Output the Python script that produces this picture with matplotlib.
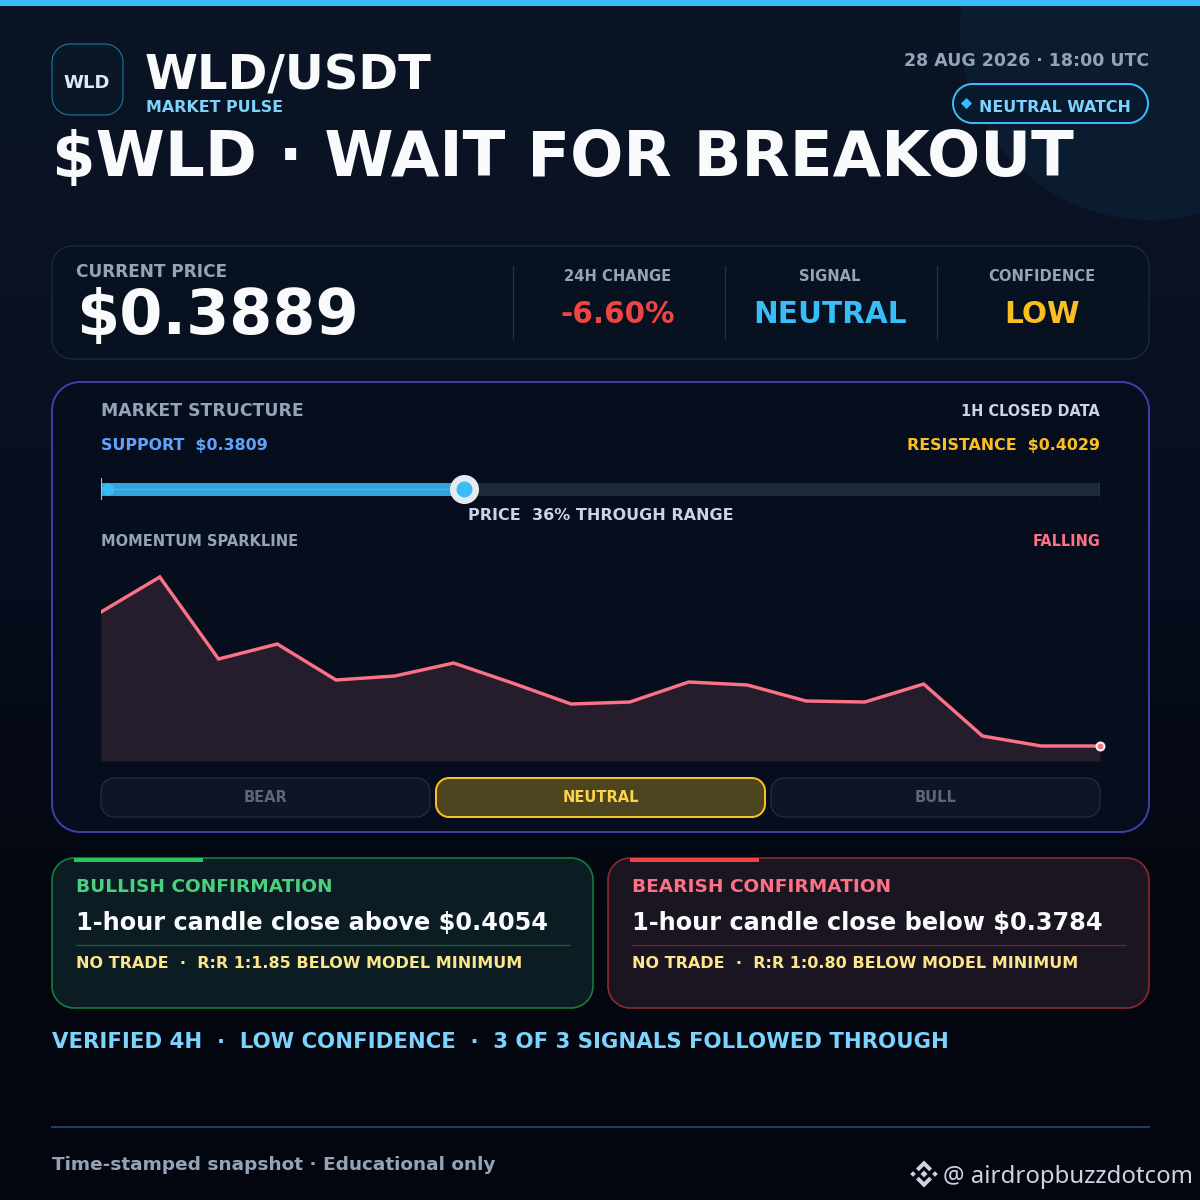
import numpy as np
import matplotlib
matplotlib.use("Agg")
import matplotlib.pyplot as plt
from matplotlib.patches import Circle, Polygon, Rectangle, PathPatch
from matplotlib.path import Path
from matplotlib.colors import LinearSegmentedColormap

plt.rcParams['font.family'] = ['DejaVu Sans']

pair = "WLD/USDT"
headline = "$WLD · WAIT FOR BREAKOUT"
price = 0.3889
support = 0.3809
resistance = 0.4029
change_pct = -6.60
spark_values = [149, 184, 102, 117, 81, 85, 98, 78, 57, 59, 79, 76, 60, 59, 77, 25, 15, 15]
pill_labels = ["BEAR", "NEUTRAL", "BULL"]

fig = plt.figure(figsize=(12, 12), dpi=100)
ax = fig.add_axes([0, 0, 1, 1])
ax.set_xlim(0, 1200)
ax.set_ylim(1200, 0)
ax.axis('off')

cmap = LinearSegmentedColormap.from_list('bg', ['#0a1526', '#0a1122', '#070d1c', '#03070f', '#03060e'])
ax.imshow(np.linspace(0, 1, 256)[:, None], cmap=cmap, extent=(0, 1200, 1200, 0), aspect='auto', zorder=0)
ax.set_xlim(0, 1200)
ax.set_ylim(1200, 0)

ax.add_patch(Circle((1150, 30), 190, fc='#0c1c30', ec='none', zorder=1))
ax.add_patch(Rectangle((0, 0), 1200, 6, fc='#38bdf8', ec='none', zorder=2))


def T(x, y, s, px, color, weight='bold', ha='left', family=None, z=6):
    return ax.text(x, y, s, fontsize=px * 0.72, color=color, fontweight=weight, ha=ha, va='baseline',
                   family=family or 'DejaVu Sans', zorder=z)


def box(x0, y0, x1, y1, r, fc, ec, lw=1.0, z=3):
    k = r * 0.5523
    verts = [(x0 + r, y0), (x1 - r, y0), (x1 - r + k, y0), (x1, y0 + r - k), (x1, y0 + r),
             (x1, y1 - r), (x1, y1 - r + k), (x1 - r + k, y1), (x1 - r, y1),
             (x0 + r, y1), (x0 + r - k, y1), (x0, y1 - r + k), (x0, y1 - r),
             (x0, y0 + r), (x0, y0 + r - k), (x0 + r - k, y0), (x0 + r, y0), (x0 + r, y0)]
    codes = [Path.MOVETO, Path.LINETO, Path.CURVE4, Path.CURVE4, Path.CURVE4,
             Path.LINETO, Path.CURVE4, Path.CURVE4, Path.CURVE4,
             Path.LINETO, Path.CURVE4, Path.CURVE4, Path.CURVE4,
             Path.LINETO, Path.CURVE4, Path.CURVE4, Path.CURVE4, Path.CLOSEPOLY]
    p = PathPatch(Path(verts, codes), fc=fc, ec=ec, lw=lw * 0.72, zorder=z)
    ax.add_patch(p)
    return p


# Header
box(52, 44, 123, 115, 18, '#0a1727', '#1f7fb0', 1)
T(87, 88.5, "WLD", 18.2, '#e2e8f0', ha='center')
T(145, 90, pair, 48, '#f8fafc')
T(146, 112, "MARKET PULSE", 15.9, '#7dd3fc')
T(52, 175.5, headline, 62.7, '#f8fafc')
T(1149, 65.5, "28 AUG 2026 · 18:00 UTC", 17.4, '#94a3b8', ha='right')
box(953, 84, 1148, 123, 19.5, '#0a1a2e', '#38bdf8', 2)
ax.add_patch(Polygon([(961, 103.5), (966.5, 98), (972, 103.5), (966.5, 109)], fc='#38bdf8', ec='none', zorder=6))
T(979, 112, "NEUTRAL WATCH", 15.9, '#7dd3fc')

# Price strip
box(52, 246, 1149, 359, 20, '#07111f', '#1b3448', 1)
T(76, 277, "CURRENT PRICE", 17.05, '#94a3b8')
T(76, 333.5, f"${price:.4f}", 62, '#f8fafc')
for xd in (512.5, 724.5, 936.5):
    ax.plot([xd, xd], [266, 339], color='#1c3348', lw=0.9, zorder=5)
T(618, 281, "24H CHANGE", 14.7, '#94a3b8', ha='center')
T(618, 323, f"{change_pct:.2f}%", 29.5, '#ef4444', ha='center')
T(830, 281, "SIGNAL", 14.7, '#94a3b8', ha='center')
T(830, 323, "NEUTRAL", 29.5, '#38bdf8', ha='center')
T(1042, 281, "CONFIDENCE", 14.7, '#94a3b8', ha='center')
T(1042, 323, "LOW", 29.5, '#fbbf24', ha='center')

# Market structure panel
box(52, 382, 1149, 832, 28, '#060e1e', '#3f3da8', 2)
T(101, 416, "MARKET STRUCTURE", 17.3, '#94a3b8')
T(1100, 416, "1H CLOSED DATA", 14.5, '#cbd5e1', ha='right')
T(101, 450, f"SUPPORT  ${support:.4f}", 15.9, '#60a5fa')
T(1100, 450, f"RESISTANCE  ${resistance:.4f}", 15.85, '#fbbf24', ha='right')

# Range bar
bar = fig.add_axes([101 / 1200, 1 - 500 / 1200, 999 / 1200, 22 / 1200])
bar.set_xlim(support, resistance)
bar.set_ylim(-1, 1)
bar.axis('off')
bar.patch.set_alpha(0)
bar.plot([support, resistance], [0, 0], color='#1e293b', lw=13 * 0.72, solid_capstyle='butt', zorder=1)
bar.plot([support, price], [0, 0], color='#34a3dc', lw=13 * 0.72, solid_capstyle='butt', zorder=2)
bar.plot([support, price], [0, 0], color='#38bdf8', lw=0.8, solid_capstyle='butt', zorder=3)
bar.plot([support, support], [-1, 1], color='#7dd3fc', lw=0.8, zorder=4)
bar.plot([resistance, resistance], [-1, 1], color='#e2e8f0', lw=0.8, zorder=4)
bar.scatter([support + 0.00015], [0], s=75, color='#38bdf8', zorder=5, clip_on=False, linewidths=0)
bar.scatter([price], [0], s=262, color='#38bdf8', edgecolors='#e5e9f0', linewidths=4.7, zorder=6, clip_on=False)
pct = (price - support) / (resistance - support)
T(601, 520, f"PRICE  {pct * 100:.0f}% THROUGH RANGE", 16, '#cbd5e1', ha='center')

T(101, 546, "MOMENTUM SPARKLINE", 14.65, '#94a3b8')
T(1100, 546, "FALLING", 14.5, '#fb7185', ha='right')

# Sparkline
sp = fig.add_axes([101 / 1200, 1 - 761 / 1200, 999 / 1200, 200 / 1200])
sp.set_xlim(0, len(spark_values) - 1)
sp.set_ylim(0, 200)
sp.axis('off')
sp.patch.set_alpha(0)
xs = np.arange(len(spark_values))
sp.fill_between(xs, spark_values, 0, color='#251d2c', lw=0, zorder=1)
sp.plot(xs, spark_values, color='#fb7185', lw=3.4 * 0.72, zorder=2, solid_joinstyle='miter')
sp.scatter([xs[-1]], [spark_values[-1]], s=32, color='#fb7185', edgecolors='#f1f5f9', linewidths=1.5, zorder=3, clip_on=False)

# Pills
pill_x = [(101, 430), (436, 765), (771, 1100)]
for i, (label, (x0, x1)) in enumerate(zip(pill_labels, pill_x)):
    active = i == 1
    box(x0, 778, x1, 817, 13, '#4d4420' if active else '#0e1524', '#fbbf24' if active else '#2a3444', 2 if active else 1, z=4)
    T((x0 + x1) / 2, 802, label, 14.6, '#fcd34d' if active else '#5d6778', ha='center')

# Confirmation cards
cards = [
    (52, 593, '#0b1d23', '#15803d', '#22c55e', '#4ccf7f', "BULLISH CONFIRMATION",
     "1-hour candle close above $0.4054", "NO TRADE  ·  R:R 1:1.85 BELOW MODEL MINIMUM", '#166534'),
    (608, 1149, '#1b1522', '#8c2b35', '#ef4444', '#fb7185', "BEARISH CONFIRMATION",
     "1-hour candle close below $0.3784", "NO TRADE  ·  R:R 1:0.80 BELOW MODEL MINIMUM", '#6b2530'),
]
for x0, x1, fc, ec, acc, head, t1, t2, t3, div in cards:
    box(x0, 858, x1, 1008, 22, fc, ec, 1.6)
    ax.add_patch(Rectangle((x0 + 22, 858), 129, 4, fc=acc, ec='none', zorder=5))
    T(x0 + 24, 891.5, t1, 18.5, head)
    T(x0 + 24, 930, t2, 24.05, '#f8fafc')
    ax.plot([x0 + 24, x1 - 24], [944.5, 944.5], color=div, lw=0.9, zorder=5)
    T(x0 + 24, 968, t3, 16.0, '#fde68a')

T(52, 1048.5, "VERIFIED 4H  ·  LOW CONFIDENCE  ·  3 OF 3 SIGNALS FOLLOWED THROUGH", 21.3, '#7dd3fc')

# Footer
ax.plot([52, 1149], [1127, 1127], color='#23405e', lw=1.4, zorder=5)
T(52, 1170, "Time-stamped snapshot · Educational only", 18.5, '#94a3b8')
T(943, 1183, "@ airdropbuzzdotcom", 24, '#cbd5e1', weight='normal', family='Noto Sans')

# Exchange mark
lc = '#cbd5e1'
cx, cy = 924, 1174
ax.add_patch(Polygon([(cx - 3.5, cy), (cx, cy - 3.5), (cx + 3.5, cy), (cx, cy + 3.5)], fc=lc, ec='none', zorder=6))
for dx in (-11, 11):
    ax.add_patch(Polygon([(cx + dx - 2.8, cy), (cx + dx, cy - 2.8), (cx + dx + 2.8, cy), (cx + dx, cy + 2.8)], fc=lc, ec='none', zorder=6))
for s in (-1, 1):
    ax.add_patch(Polygon([(cx, cy + s * 13.5), (cx + 8, cy + s * 5.5), (cx + 5.2, cy + s * 2.7),
                          (cx, cy + s * 7.9), (cx - 5.2, cy + s * 2.7), (cx - 8, cy + s * 5.5)], fc=lc, ec='none', zorder=6))

fig.savefig('out.png', dpi=100)
